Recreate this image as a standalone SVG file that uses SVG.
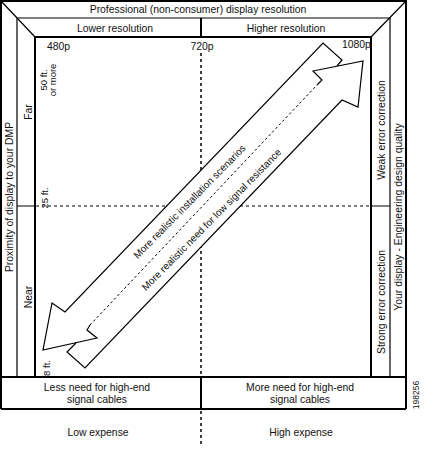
<svg xmlns="http://www.w3.org/2000/svg" width="433" height="453" viewBox="0 0 433 453">
<style>
text{font-family:"Liberation Sans",Arial,sans-serif;font-size:10.4px;fill:#111}
.m{text-anchor:middle}
.s{font-size:9.5px}
.ln{stroke:#000;fill:none}
.th{stroke-width:2}
.tn{stroke-width:1.2}
.dot{stroke:#000;stroke-width:1.5;stroke-dasharray:3 3;fill:none}
.dash{stroke:#000;stroke-width:1;stroke-dasharray:3 3;fill:none}
.ar{font-size:10px}
</style>
<rect width="433" height="453" fill="#fff"/>
<g id="frame">
<path class="ln th" d="M1,409 V1 H406 V409 M1,377 H406 M1,409 H406"/>
<path class="ln th" d="M35,377 V37 H371 V377"/>
<path class="ln tn" d="M17,377 V18 H390 V377"/>
<path class="ln tn" d="M1,1 L35,37 M406,1 L371,37"/>
<path class="ln th" d="M201,18 V37 M201,377 V409"/>
<path class="ln tn" d="M17,206 H35 M371,206 H390"/>
</g>
<g id="grid">
<path class="dot" d="M201,53 V377 M201,411 V446"/>
<path class="dash" d="M36,206 H370"/>
</g>
<g id="connectors">
<path fill="#fff" stroke="none" d="M323,43 L342,60 L337,66 L363,61 L358,107 L342,100 L85,368 L67,352 L76,343 L43,350 L52,303 L65,312 Z"/>
<path class="ln tn" stroke-linejoin="miter" d="M337,66 L342,60 L323,43 L65,312 L52,303 L43,350 L97,338 L87,330 L90,325"/>
<path class="ln tn" stroke-linejoin="miter" d="M317,85 L322,80 L313,71 L363,61 L358,107 L342,100 L85,368 L67,352 L76,343"/>
<path class="ln" stroke-width="1" stroke-dasharray="2.5 2.5" d="M90,325 L317,85"/>
</g>
<g id="top-labels">
<text class="m" x="198" y="12.5">Professional (non-consumer) display resolution</text>
<text class="m" x="115" y="32">Lower resolution</text>
<text class="m" x="286" y="32">Higher resolution</text>
<text x="47" y="50">480p</text>
<text class="m" x="202" y="50">720p</text>
<text x="342" y="48">1080p</text>
</g>
<g id="left-labels">
<text class="m" transform="translate(13,197) rotate(-90)">Proximity of display to your DMP</text>
<text class="m" transform="translate(32,112) rotate(-90)">Far</text>
<text class="m" transform="translate(32,297) rotate(-90)">Near</text>
<text class="m s" transform="translate(47,80) rotate(-90)">50 ft.</text>
<text class="m s" transform="translate(56,80) rotate(-90)">or more</text>
<text class="m s" transform="translate(48,198) rotate(-90)">25 ft.</text>
<text class="m s" transform="translate(50,368) rotate(-90)">8 ft.</text>
</g>
<g id="right-labels">
<text class="m" transform="translate(385,130) rotate(-90)">Weak error correction</text>
<text class="m" transform="translate(385,302) rotate(-90)">Strong error correction</text>
<text class="m" transform="translate(402,217) rotate(-90)">Your display - Engineering design quality</text>
<text class="m" style="font-size:8.5px" transform="translate(419,395) rotate(-90)">198256</text>
</g>
<g id="arrow-labels">
<text class="m ar" transform="translate(192,204) rotate(-45.5)">More realistic installation scenarios</text>
<text class="m ar" transform="translate(214,222) rotate(-45.5)">More realistic need for low signal resistance</text>
</g>
<g id="bottom-labels">
<text class="m" x="97" y="391">Less need for high-end</text>
<text class="m" x="97" y="403">signal cables</text>
<text class="m" x="300" y="391">More need for high-end</text>
<text class="m" x="300" y="403">signal cables</text>
<text class="m" x="98" y="436">Low expense</text>
<text class="m" x="301" y="436">High expense</text>
</g>
</svg>
